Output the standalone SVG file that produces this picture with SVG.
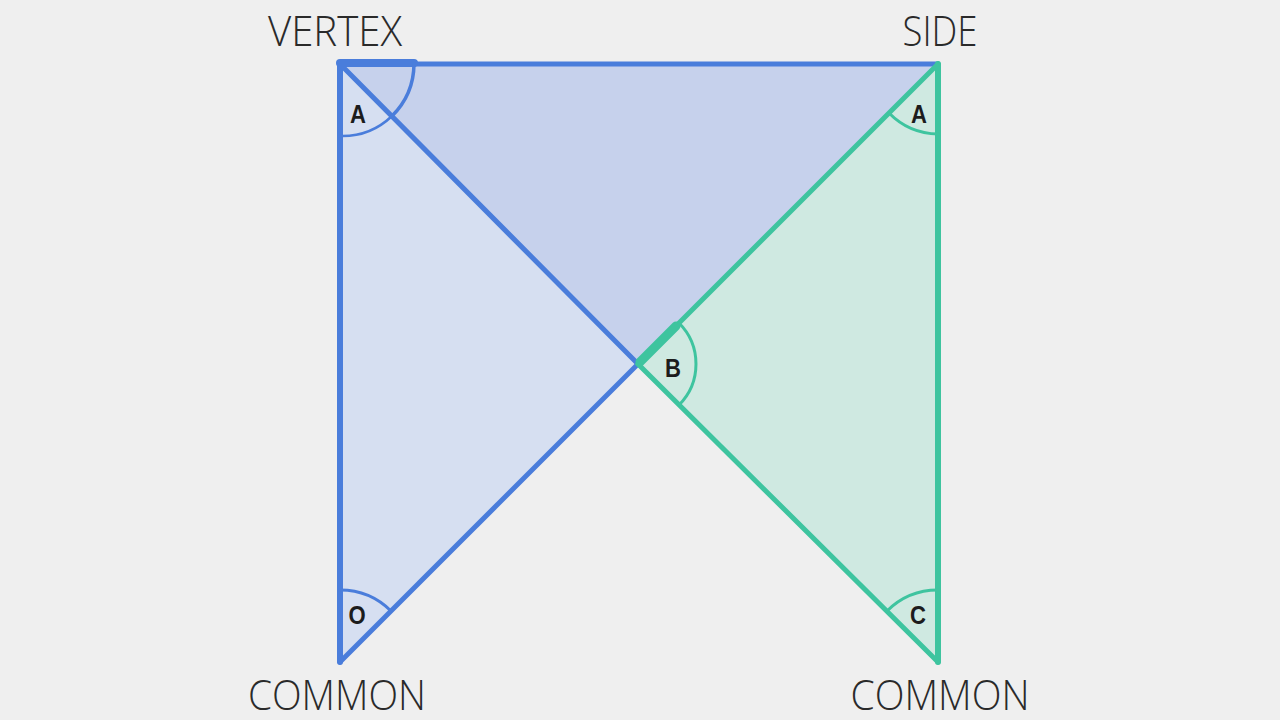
<svg xmlns="http://www.w3.org/2000/svg" width="1280" height="720" viewBox="0 0 1280 720">
<style>
.bl{stroke:#4a7ddb;fill:none;stroke-linecap:round;stroke-linejoin:round}
.gr{stroke:#3ec49f;fill:none;stroke-linecap:round;stroke-linejoin:round}
.lbl{font-family:"Open Sans","Liberation Sans",sans-serif;font-weight:300;fill:#2a2a2a;text-anchor:middle}
.ang{font-family:"Liberation Sans",sans-serif;font-weight:bold;font-size:26px;fill:#1c1c1c;text-anchor:middle}
</style>
<rect width="1280" height="720" fill="#efefef"/>
<g id="fills">
<polygon points="340,64 938,64 638,364" fill="#c6d1ec"/>
<polygon points="340,64 638,364 340,662" fill="#d6dff1"/>
<polygon points="938,64 638,364 938,662" fill="#cfe9e1"/>
</g>
<g id="connectors">
<line class="bl" x1="340" y1="64" x2="938" y2="64" stroke-width="5"/>
<line class="bl" x1="340" y1="64" x2="340" y2="662" stroke-width="6"/>
<line class="bl" x1="340" y1="64" x2="638" y2="364" stroke-width="5"/>
<line class="bl" x1="638" y1="364" x2="340" y2="662" stroke-width="5"/>
<line class="bl" x1="340" y1="63" x2="414" y2="63" stroke-width="8"/>
<line class="gr" x1="938" y1="64" x2="638" y2="364" stroke-width="5"/>
<line class="gr" x1="938" y1="64" x2="938" y2="662" stroke-width="6"/>
<line class="gr" x1="638" y1="364" x2="938" y2="662" stroke-width="5"/>
<line class="gr" x1="640" y1="362" x2="676" y2="326" stroke-width="9"/>
</g>
<g id="angle-TL">
<path class="bl" d="M414,64 A74,74 0 0 1 392,116" stroke-width="3.5"/>
<path class="bl" d="M392,116 A72,72 0 0 1 340,136" stroke-width="2.5"/>
<text class="ang" x="358" y="123" transform="translate(358 0) scale(0.85 1) translate(-358 0)">A</text>
</g>
<g id="angle-TR">
<path class="gr" d="M889,113 A70,70 0 0 0 938,134" stroke-width="3"/>
<text class="ang" x="919" y="123" transform="translate(919 0) scale(0.85 1) translate(-919 0)">A</text>
</g>
<g id="angle-B">
<path class="gr" d="M679,323 A58,58 0 0 1 679,405" stroke-width="3"/>
<text class="ang" x="673" y="377" transform="translate(673 0) scale(0.85 1) translate(-673 0)">B</text>
</g>
<g id="angle-BL">
<path class="bl" d="M340,590 A72,72 0 0 1 391,611" stroke-width="3"/>
<text class="ang" x="357" y="624" transform="translate(357 0) scale(0.85 1) translate(-357 0)">O</text>
</g>
<g id="angle-BR">
<path class="gr" d="M938,590 A72,72 0 0 0 887,611" stroke-width="3"/>
<text class="ang" x="918" y="624" transform="translate(918 0) scale(0.85 1) translate(-918 0)">C</text>
</g>
<g id="label-vertex"><text class="lbl" x="335" y="46" font-size="42" textLength="134" lengthAdjust="spacingAndGlyphs">VERTEX</text></g>
<g id="label-side"><text class="lbl" x="940" y="46" font-size="42" textLength="75" lengthAdjust="spacingAndGlyphs">SIDE</text></g>
<g id="label-common-left"><text class="lbl" x="337" y="710" font-size="42" textLength="178" lengthAdjust="spacingAndGlyphs">COMMON</text></g>
<g id="label-common-right"><text class="lbl" x="940" y="710" font-size="42" textLength="179" lengthAdjust="spacingAndGlyphs">COMMON</text></g>
</svg>
